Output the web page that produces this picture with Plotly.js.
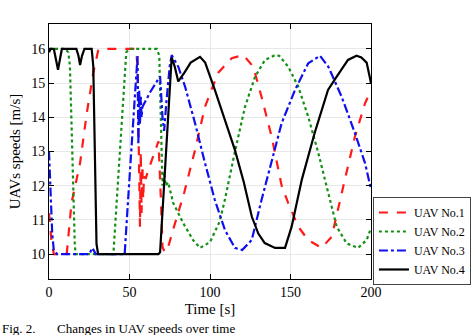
<!DOCTYPE html>
<html>
<head>
<meta charset="utf-8">
<script src="https://cdn.plot.ly/plotly-3.0.1.min.js"></script>
<style>html,body{margin:0;padding:0;background:#fff;}#chart{width:474px;height:335px;}</style>
</head>
<body>
<div id="chart"></div>
<script>
// UAV No.1 (red, dashed)
const t1 = [0, 1.5, 3, 11, 14, 19.3, 23.4, 27.5, 30.5, 32, 54, 55, 55.8, 56.5, 57, 57.5, 58, 58.5, 59, 60, 62, 65, 68, 69.5, 70.5, 72, 74, 77, 80, 84, 90.7, 96.9, 105, 113.5, 120.7, 126.9, 132, 138.3, 144.5, 148.6, 154.8, 161, 169.4, 175.6, 181.8, 190, 196.3, 200];
const v1 = [11.2, 10.4, 10.0, 10.0, 11.5, 12.66, 14.1, 15.3, 15.95, 16, 16, 15.5, 13, 10.8, 13.0, 11.2, 12.6, 11.6, 12.3, 12.2, 12.5, 12.9, 13.3, 11.6, 10.2, 10.05, 10.2, 10.7, 11.2, 11.8, 13.04, 14.31, 15.3, 15.73, 15.82, 15.48, 14.6, 13.43, 12.0, 11.49, 10.8, 10.41, 10.18, 10.51, 11.78, 13.43, 14.41, 14.8];
// UAV No.2 (green, dotted)
const t2 = [0, 10, 12, 13, 14, 15, 16, 16.5, 40, 42, 44, 46, 48, 50, 67, 68.5, 69.5, 70.5, 71.5, 72.5, 74, 77.2, 83.4, 89.6, 93.8, 100, 106, 109.3, 115.5, 121.7, 128, 134.2, 140.4, 143, 148.6, 154.8, 161, 167.3, 173.5, 178.7, 184.9, 192, 197.3, 200];
const v2 = [16, 16, 15.9, 15.5, 13.8, 11.9, 10.3, 10, 10, 11.5, 13.0, 14.5, 15.9, 16, 16, 15.8, 13.5, 12.0, 12.4, 12.0, 12.1, 11.49, 10.9, 10.4, 10.18, 10.35, 10.95, 11.6, 13.0, 14.3, 15.19, 15.68, 15.82, 15.8, 15.48, 14.9, 14.02, 12.95, 11.78, 10.8, 10.31, 10.18, 10.41, 10.76];
// UAV No.3 (blue, dash-dot)
const t3 = [0, 1, 2, 3, 5, 25, 27, 29, 47, 49, 51, 53, 55, 55.5, 56, 56.5, 57, 57.5, 58, 63, 69, 70.5, 71.5, 73, 75, 76.2, 80.3, 84.5, 90.7, 96.9, 103, 109.3, 115.5, 120, 125.9, 132, 138.3, 144.5, 152.8, 161, 168.3, 173.5, 181.8, 190, 196.3, 200];
const v3 = [13, 11.5, 10.6, 10.1, 10, 10, 10.18, 10, 10, 11.5, 13, 14.5, 15.8, 13.2, 14.8, 13.8, 14.6, 14.0, 14.3, 14.75, 15.2, 14.0, 13.6, 14.5, 15.5, 15.82, 15.48, 14.9, 13.83, 12.66, 11.58, 10.7, 10.18, 10.12, 10.41, 11.58, 12.75, 13.83, 14.8, 15.58, 15.8, 15.48, 14.6, 13.54, 12.66, 11.9];
// UAV No.4 (black, solid)
const t4 = [0, 1, 3, 4.5, 5.6, 6.8, 8, 17, 18.3, 19.3, 20.5, 22, 26.5, 27.5, 28.5, 29.5, 30.5, 68, 69, 72.5, 76.2, 78, 80.3, 84, 88, 93.8, 97, 103, 109, 115.5, 121, 126, 130, 134, 140.4, 146.6, 150.7, 157, 165, 173.3, 178.7, 185.7, 191, 194, 197.3, 200];
const v4 = [15.9, 16, 16, 15.7, 15.39, 15.7, 16, 16, 15.8, 15.53, 15.8, 16, 16, 15.5, 12.5, 10.3, 10, 10, 10.05, 12.9, 15.75, 15.5, 15.05, 15.3, 15.6, 15.77, 15.6, 14.8, 13.95, 13.04, 12.1, 11.09, 10.6, 10.32, 10.18, 10.18, 10.8, 12.17, 13.54, 14.8, 15.19, 15.68, 15.8, 15.75, 15.6, 15.0];

const names = ['UAV No.1', 'UAV No.2', 'UAV No.3', 'UAV No.4'];
const xTicks = [0, 50, 100, 150, 200];
const yTicks = [10, 11, 12, 13, 14, 15, 16];

const fam = '"Liberation Serif", "Times New Roman", serif';
const font = {family: fam, size: 14, color: '#000'};

const traces = [
  {x: t1, y: v1, name: names[0], mode: 'lines', line: {color: '#ff1a1a', width: 2.2, dash: 'dash'}},
  {x: t2, y: v2, name: names[1], mode: 'lines', line: {color: '#139013', width: 2.2, dash: 'dot'}},
  {x: t3, y: v3, name: names[2], mode: 'lines', line: {color: '#1010ee', width: 2.2, dash: 'dashdot'}},
  {x: t4, y: v4, name: names[3], mode: 'lines', line: {color: '#000000', width: 2.2, dash: 'solid'}}
];

const axisCommon = {
  showline: true, linecolor: '#000', linewidth: 1, mirror: 'ticks',
  ticks: 'inside', ticklen: 5, tickcolor: '#000',
  showgrid: true, gridcolor: '#e8e8e8', gridwidth: 1,
  zeroline: false, tickfont: font
};

const layout = {
  width: 474, height: 335,
  margin: {l: 49, r: 103, t: 24, b: 56, autoexpand: false},
  paper_bgcolor: '#fff', plot_bgcolor: '#fff',
  font: font,
  showlegend: true,
  legend: {
    x: 1.006, xanchor: 'left', y: -0.0235, yanchor: 'bottom',
    bgcolor: '#fff', bordercolor: '#444', borderwidth: 1,
    font: {family: fam, size: 12, color: '#000'},
    tracegroupgap: 0, itemwidth: 30
  },
  xaxis: Object.assign({}, axisCommon, {
    range: [0, 200], tickvals: xTicks, ticktext: xTicks.map(String),
    title: {text: 'Time [s]', font: {family: fam, size: 15}, standoff: 4}
  }),
  yaxis: Object.assign({}, axisCommon, {
    range: [9.27, 16.73], tickvals: yTicks, ticktext: yTicks.map(String),
    title: {text: 'UAVs speeds [m/s]', font: {family: fam, size: 15}, standoff: 6}
  }),
  annotations: [
    {xref: 'paper', yref: 'paper', x: -0.152, y: -0.158, xanchor: 'left', yanchor: 'top',
     text: 'Fig. 2.', showarrow: false, font: {family: fam, size: 13}},
    {xref: 'paper', yref: 'paper', x: 0.018, y: -0.158, xanchor: 'left', yanchor: 'top',
     text: 'Changes in UAV speeds over time', showarrow: false, font: {family: fam, size: 13}}
  ]
};

Plotly.newPlot('chart', traces, layout, {displayModeBar: false, staticPlot: true});
</script>
</body>
</html>
